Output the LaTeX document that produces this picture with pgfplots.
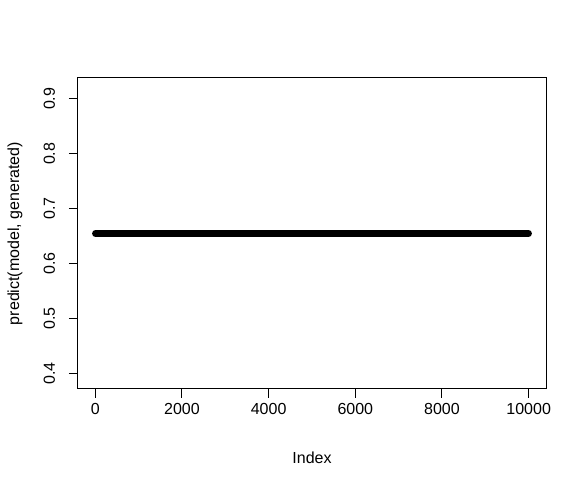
\documentclass[border=0pt]{standalone}
\usepackage{fontspec}
\setmainfont{Liberation Sans}
\usepackage{pgfplots}
\pgfplotsset{compat=1.18}

\begin{document}
\begin{tikzpicture}
\useasboundingbox (0,0) rectangle (587pt,487pt);
\begin{axis}[
	at={(78pt,98pt)}, anchor=south west,
	scale only axis,
	width=468pt, height=311pt,
	xmin=-398.96, xmax=10399.96,
	ymin=0.372, ymax=0.938,
	xtick={0,2000,4000,6000,8000,10000},
	ytick={0.4,0.5,0.6,0.7,0.8,0.9},
	xtick pos=bottom, ytick pos=left,
	tick align=outside,
	major tick length=9pt,
	axis line style={line width=1pt},
	every tick/.style={line width=1pt, black},
	scaled ticks=false,
	/pgf/number format/assume math mode=true,
	xticklabel style={/pgf/number format/set thousands separator={}},
	yticklabel style={/pgf/number format/fixed, /pgf/number format/fixed zerofill,
		/pgf/number format/precision=1, rotate=90, anchor=base, inner sep=0pt},
	xticklabel style={anchor=base, inner sep=0pt},
	ticklabel style={font=\fontsize{16}{19}\selectfont},
	xticklabel shift=17pt,
	yticklabel shift=14pt,
	xlabel={Index},
	ylabel={predict(model, generated)},
	label style={font=\fontsize{16}{19}\selectfont},
	xlabel style={at={(axis description cs:0.5,-0.238)}, anchor=base, inner sep=0pt},
	ylabel style={at={(axis description cs:-0.126,0.5)}, anchor=base, inner sep=0pt},
]
	% 10000 predictions, all the same value: drawn as one thick band
	\addplot[black, line width=6.5pt, line cap=round, no marks] coordinates {
		(1,0.655)
		(10000,0.655)
	};
\end{axis}
\end{tikzpicture}
\end{document}
